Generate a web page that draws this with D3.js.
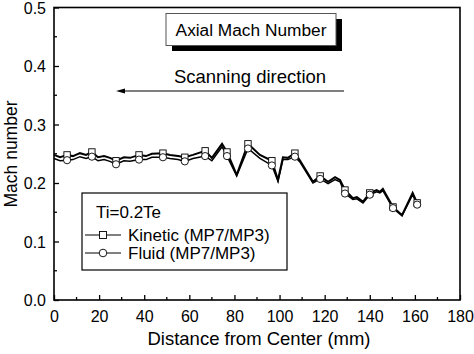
<!DOCTYPE html>
<html>
<head>
<meta charset="utf-8">
<script src="https://cdn.jsdelivr.net/npm/d3@7"></script>
<style>
  body { margin: 0; background: #fff; }
  svg { display: block; font-family: "Liberation Sans", Arial, sans-serif; }
</style>
</head>
<body>
<svg id="chart" width="474" height="354"></svg>
<script>
// distance from center (mm) for each sample
const distance = [0, 2.7, 5.8, 8.4, 11.5, 14.2, 16.8, 19.5, 22.2, 24.8, 27.5, 31, 33.7, 37.7, 40.8, 43.4,
  48.3, 51.4, 55, 58, 61.6, 67, 70, 74.5, 76.7, 81, 86, 91.3, 96.6, 99.3, 101.5, 103.7, 106.8, 109,
  114.8, 118, 121.5, 124.6, 126.8, 129, 132.5, 134.3, 137, 140, 143, 144.5, 145.8, 150.3, 154.3, 159, 161];

const kinetic = [0.248, 0.244, 0.248, 0.246, 0.251, 0.248, 0.253, 0.244, 0.246, 0.243, 0.238, 0.244, 0.243, 0.248, 0.246, 0.25,
  0.251, 0.248, 0.246, 0.244, 0.248, 0.255, 0.243, 0.267, 0.253, 0.214, 0.267, 0.248, 0.238, 0.205, 0.244, 0.243, 0.251, 0.239,
  0.202, 0.212, 0.202, 0.21, 0.205, 0.188, 0.174, 0.176, 0.168, 0.183, 0.188, 0.185, 0.19, 0.159, 0.145, 0.183, 0.166];

const fluid = [0.242, 0.238, 0.239, 0.24, 0.245, 0.242, 0.245, 0.238, 0.24, 0.237, 0.232, 0.238, 0.237, 0.24, 0.24, 0.244,
  0.244, 0.242, 0.24, 0.237, 0.242, 0.246, 0.238, 0.262, 0.246, 0.212, 0.259, 0.242, 0.23, 0.203, 0.24, 0.24, 0.245, 0.236,
  0.2, 0.207, 0.199, 0.206, 0.202, 0.182, 0.172, 0.173, 0.166, 0.18, 0.185, 0.183, 0.187, 0.157, 0.144, 0.18, 0.163];

// samples that carry a symbol
const markerIdx = [2, 6, 10, 13, 16, 19, 21, 24, 26, 28, 32, 35, 39, 43, 47, 50];

const xTicks = [0, 20, 40, 60, 80, 100, 120, 140, 160, 180];
const yTicks = [0.0, 0.1, 0.2, 0.3, 0.4, 0.5];
const legendLabels = ["Kinetic (MP7/MP3)", "Fluid (MP7/MP3)"];

const margin = { top: 7.5, right: 14, bottom: 54, left: 54 };
const W = 474, H = 354;
const svg = d3.select("#chart");

const x = d3.scaleLinear().domain([0, 180]).range([margin.left, W - margin.right]);
const y = d3.scaleLinear().domain([0, 0.5]).range([H - margin.bottom, margin.top]);

// minor ticks
const xMinor = d3.range(10, 180, 20);
const yMinor = d3.range(0.05, 0.5, 0.1);

const gx = svg.append("g").attr("transform", `translate(0,${H - margin.bottom})`);
gx.call(d3.axisBottom(x).tickValues(xTicks).tickSize(-5).tickPadding(8).tickFormat(d3.format("d")));
gx.selectAll(".tick text").attr("font-size", 16).attr("dy", "0.9em");
gx.select(".domain").remove();
gx.selectAll("line").attr("stroke", "#000").attr("stroke-width", 1.3);
gx.selectAll(".minor").data(xMinor).enter().append("line")
  .attr("x1", d => x(d)).attr("x2", d => x(d)).attr("y1", 0).attr("y2", -3)
  .attr("stroke", "#000").attr("stroke-width", 1.3);

const gy = svg.append("g").attr("transform", `translate(${margin.left},0)`);
gy.call(d3.axisLeft(y).tickValues(yTicks).tickSize(-5).tickPadding(8).tickFormat(d3.format(".1f")));
gy.selectAll(".tick text").attr("font-size", 16).attr("dy", "0.36em");
gy.select(".domain").remove();
gy.selectAll("line").attr("stroke", "#000").attr("stroke-width", 1.3);
gy.selectAll(".minor").data(yMinor).enter().append("line")
  .attr("x1", 0).attr("x2", 3).attr("y1", d => y(d)).attr("y2", d => y(d))
  .attr("stroke", "#000").attr("stroke-width", 1.3);

// frame
svg.append("rect")
  .attr("x", margin.left).attr("y", margin.top)
  .attr("width", W - margin.left - margin.right).attr("height", H - margin.top - margin.bottom)
  .attr("fill", "none").attr("stroke", "#000").attr("stroke-width", 1.6);

// axis titles
svg.append("text").attr("x", 259).attr("y", 345).attr("text-anchor", "middle")
  .attr("font-size", 18.5).text("Distance from Center (mm)");
svg.append("text").attr("transform", "translate(17,154) rotate(-90)").attr("text-anchor", "middle")
  .attr("font-size", 17.5).text("Mach number");

// lines
const line = vals => d3.line().x((d, i) => x(distance[i])).y((d, i) => y(vals[i]))(vals);

svg.append("path").attr("d", line(fluid)).attr("fill", "none").attr("stroke", "#000").attr("stroke-width", 1.5);
svg.append("path").attr("d", line(kinetic)).attr("fill", "none").attr("stroke", "#000").attr("stroke-width", 2);

// symbols
svg.append("g").selectAll("rect").data(markerIdx).enter().append("rect")
  .attr("x", i => x(distance[i]) - 3.2).attr("y", i => y(kinetic[i]) - 3.2)
  .attr("width", 6.4).attr("height", 6.4)
  .attr("fill", "#fff").attr("stroke", "#000").attr("stroke-width", 0.9);
svg.append("g").selectAll("circle").data(markerIdx).enter().append("circle")
  .attr("cx", i => x(distance[i])).attr("cy", i => y(fluid[i]))
  .attr("r", 3.6)
  .attr("fill", "#fff").attr("stroke", "#000").attr("stroke-width", 0.9);

// title box with shadow
svg.append("rect").attr("x", 172).attr("y", 19).attr("width", 170).attr("height", 32).attr("fill", "#000");
svg.append("rect").attr("x", 166).attr("y", 13.5).attr("width", 170).attr("height", 32)
  .attr("fill", "#fff").attr("stroke", "#555").attr("stroke-width", 1);
svg.append("text").attr("x", 251).attr("y", 35.5).attr("text-anchor", "middle")
  .attr("font-size", 17.3).text("Axial Mach Number");

// scanning direction
svg.append("text").attr("x", 250).attr("y", 83).attr("text-anchor", "middle")
  .attr("font-size", 18.5).text("Scanning direction");
svg.append("line").attr("x1", 123).attr("x2", 344).attr("y1", 91).attr("y2", 91)
  .attr("stroke", "#000").attr("stroke-width", 1.2);
svg.append("path").attr("d", "M116,91 L125,88.5 L125,93.5 Z").attr("fill", "#000");

// legend
svg.append("rect").attr("x", 82).attr("y", 193).attr("width", 205).attr("height", 77)
  .attr("fill", "#fff").attr("stroke", "#000").attr("stroke-width", 1.2);
svg.append("text").attr("x", 96).attr("y", 218).attr("font-size", 17).text("Ti=0.2Te");

const legRows = [235, 253];
legRows.forEach((ly, k) => {
  svg.append("line").attr("x1", 85).attr("x2", 121).attr("y1", ly).attr("y2", ly)
    .attr("stroke", "#000").attr("stroke-width", 1);
  if (k === 0) {
    svg.append("rect").attr("x", 99.5).attr("y", ly - 3.5).attr("width", 7).attr("height", 7)
      .attr("fill", "#fff").attr("stroke", "#000").attr("stroke-width", 0.9);
  } else {
    svg.append("circle").attr("cx", 103).attr("cy", ly).attr("r", 3.8)
      .attr("fill", "#fff").attr("stroke", "#000").attr("stroke-width", 0.9);
  }
  svg.append("text").attr("x", 128).attr("y", ly + 6).attr("font-size", 17).text(legendLabels[k]);
});
</script>
</body>
</html>
